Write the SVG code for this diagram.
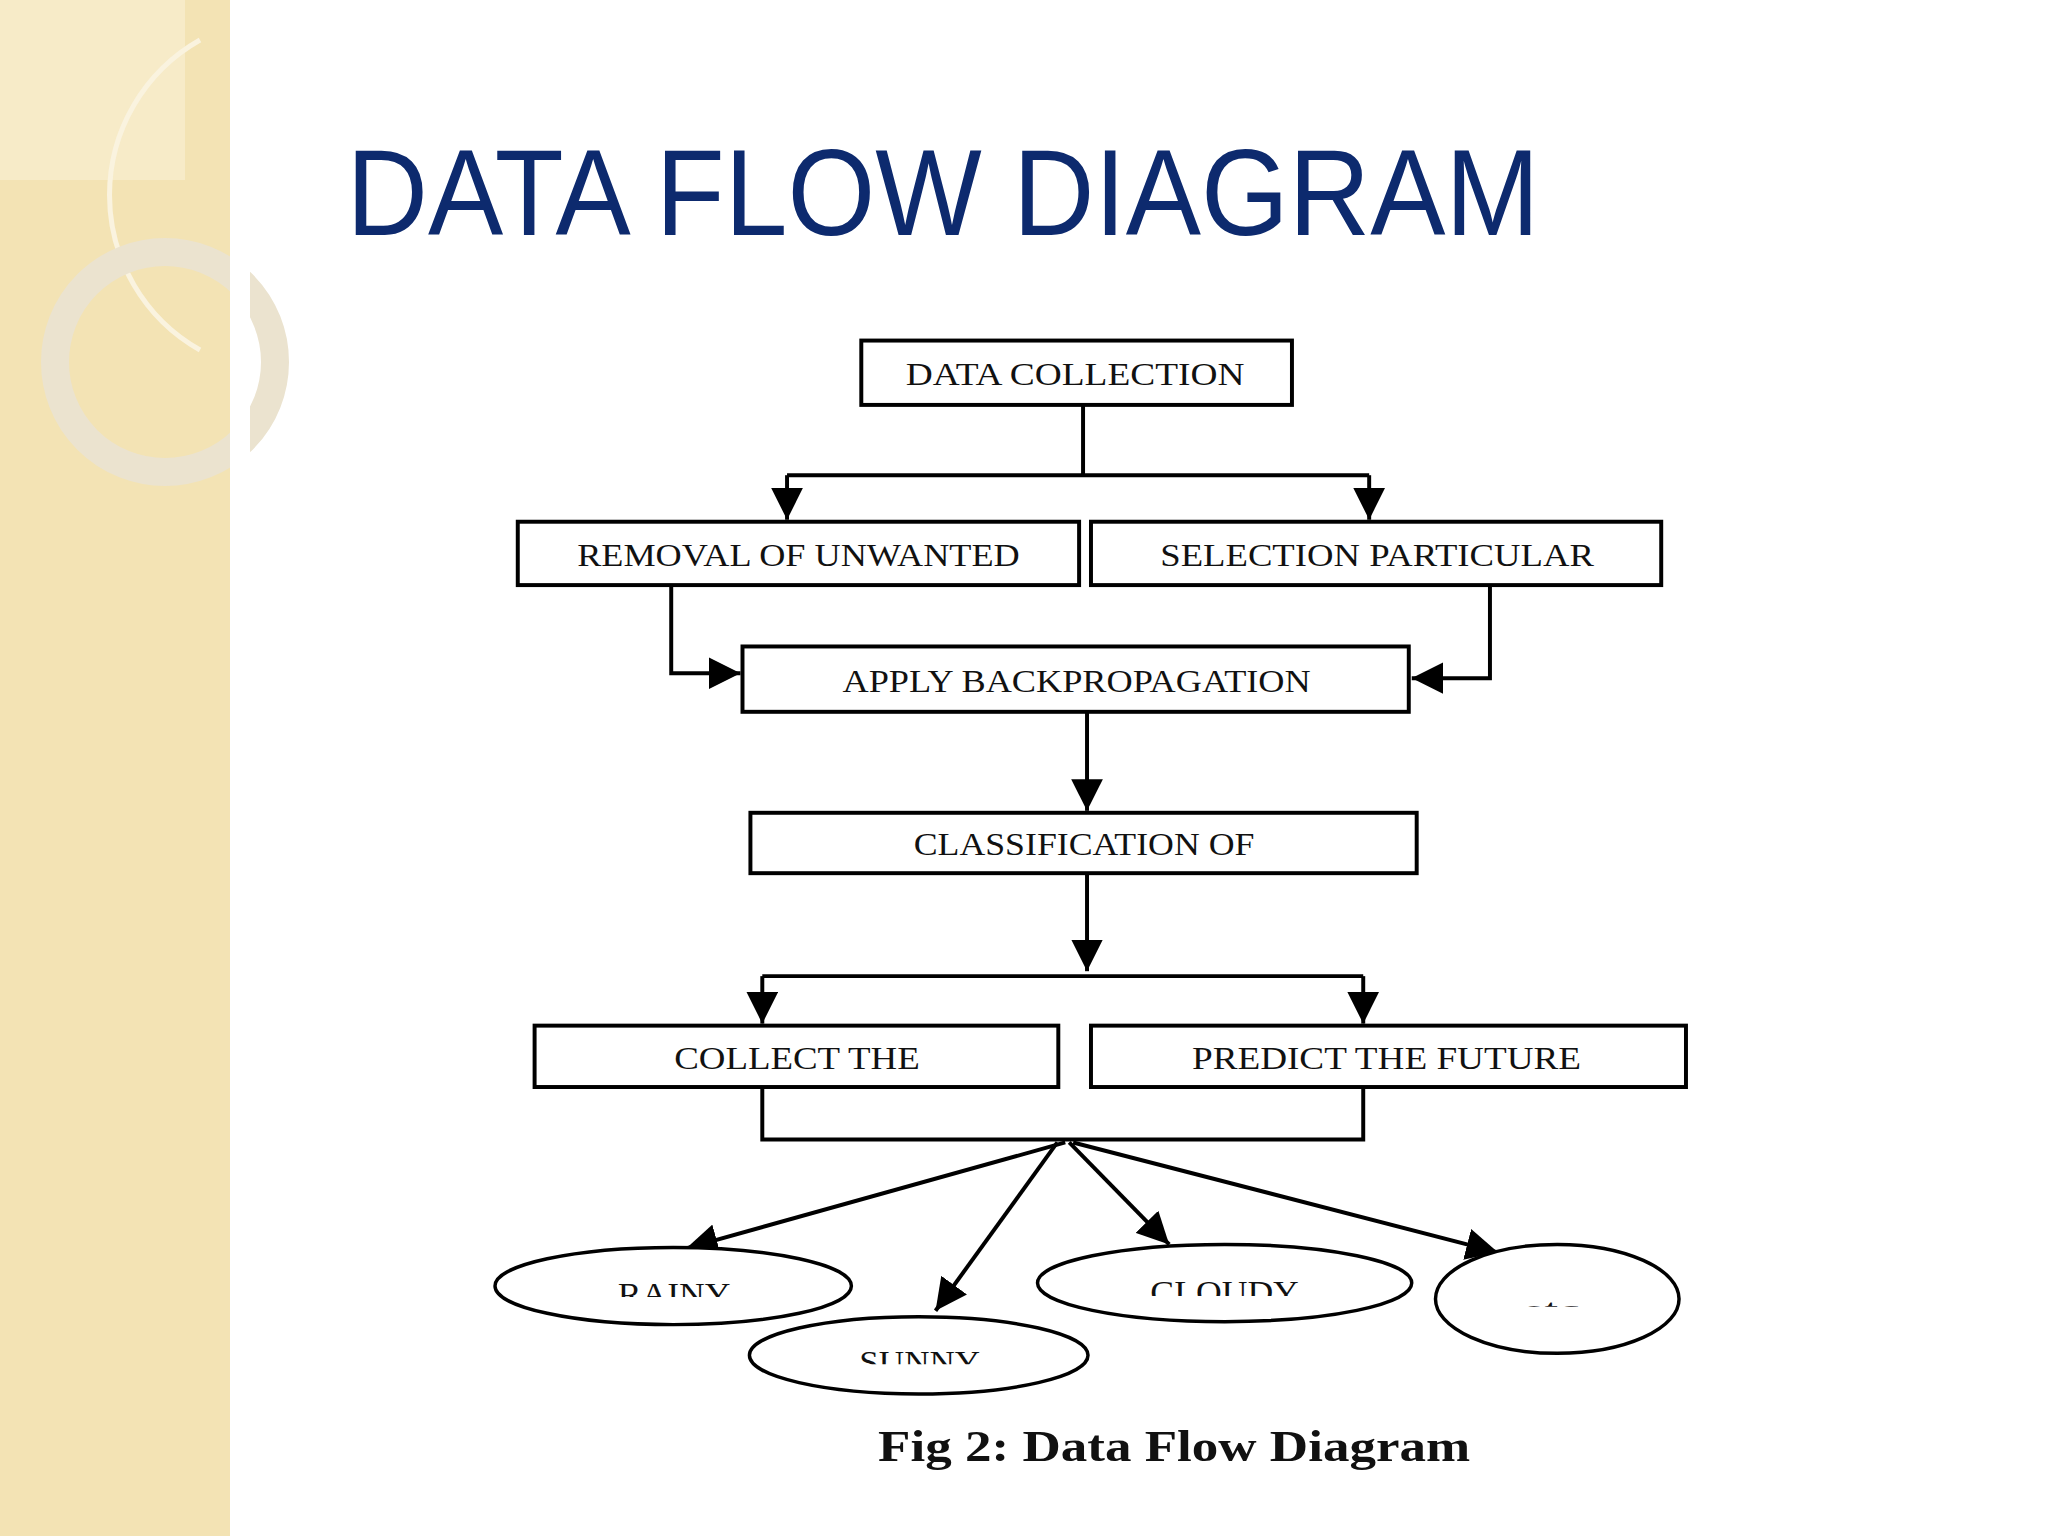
<svg xmlns="http://www.w3.org/2000/svg" width="2048" height="1536" viewBox="0 0 2048 1536">
<style>
.box{fill:#fff;stroke:#000;stroke-width:4}
.bt{font-family:"Liberation Serif",serif;font-size:31px;fill:#111}
.ln{fill:none;stroke:#000;stroke-width:4}
.el{fill:#fff;stroke:#000;stroke-width:3.5}
</style>
<defs>
<marker id="a" viewBox="0 0 10 10" refX="10" refY="5" markerWidth="8" markerHeight="8" orient="auto"><path d="M0,0 L10,5 L0,10 z" fill="#000"/></marker>
<clipPath id="cr"><rect x="600" y="1270" width="200" height="40"/></clipPath>
<clipPath id="cs"><rect x="840" y="1340" width="200" height="38"/></clipPath>
<clipPath id="cc"><rect x="1130" y="1270" width="220" height="39"/></clipPath>
<clipPath id="ce"><rect x="1500" y="1300" width="150" height="20"/></clipPath>
</defs>
<rect width="2048" height="1536" fill="#fff"/>
<g id="band">
<rect x="0" y="0" width="230" height="1536" fill="#f3e3b4"/>
<rect x="0" y="0" width="185" height="180" fill="#f7ebc8"/>
<path d="M230,40 A178,178 0 0 0 230,350" fill="none" stroke="#faf3df" stroke-width="5" transform="translate(-30,0)"/>
<circle cx="165" cy="362" r="110" fill="none" stroke="#ebe3cf" stroke-width="28"/>
<rect x="230" y="0" width="20" height="1536" fill="#fff"/>
</g>
<g transform="scale(0.99)">
<text x="350" y="237" font-family="Liberation Sans,Arial,sans-serif" font-size="124" fill="#0d2a6e" textLength="1205" lengthAdjust="spacingAndGlyphs">DATA FLOW DIAGRAM</text>
<g id="connectors">
<path class="ln" d="M1094,409 V480 M795,480 H1383"/>
<path class="ln" d="M795,480 V525" marker-end="url(#a)"/>
<path class="ln" d="M1383,480 V525" marker-end="url(#a)"/>
<path class="ln" d="M678,591 V680 H748" marker-end="url(#a)"/>
<path class="ln" d="M1505,591 V685 H1426" marker-end="url(#a)"/>
<path class="ln" d="M1098,719 V819" marker-end="url(#a)"/>
<path class="ln" d="M1098,882 V981" marker-end="url(#a)"/>
<path class="ln" d="M770,986 H1377"/>
<path class="ln" d="M770,986 V1034" marker-end="url(#a)"/>
<path class="ln" d="M1377,986 V1034" marker-end="url(#a)"/>
<path class="ln" d="M770,1098 V1151 H1377 V1098"/>
<path class="ln" d="M1076,1154 L693,1261" marker-end="url(#a)"/>
<path class="ln" d="M1068,1154 L945,1324" marker-end="url(#a)"/>
<path class="ln" d="M1080,1154 L1181,1257" marker-end="url(#a)"/>
<path class="ln" d="M1084,1154 L1513,1265" marker-end="url(#a)"/>
</g>
<g id="n1"><rect class="box" x="870" y="344" width="435" height="65"/><text class="bt" x="915" y="389" textLength="342" lengthAdjust="spacingAndGlyphs">DATA  COLLECTION</text></g>
<g id="n2"><rect class="box" x="523" y="527" width="567" height="64"/><text class="bt" x="583" y="572" textLength="447" lengthAdjust="spacingAndGlyphs">REMOVAL OF UNWANTED</text></g>
<g id="n3"><rect class="box" x="1102" y="527" width="576" height="64"/><text class="bt" x="1172" y="572" textLength="438" lengthAdjust="spacingAndGlyphs">SELECTION  PARTICULAR</text></g>
<g id="n4"><rect class="box" x="750" y="653" width="673" height="66"/><text class="bt" x="851" y="699" textLength="473" lengthAdjust="spacingAndGlyphs">APPLY BACKPROPAGATION</text></g>
<g id="n5"><rect class="box" x="758" y="821" width="673" height="61"/><text class="bt" x="923" y="864" textLength="344" lengthAdjust="spacingAndGlyphs">CLASSIFICATION OF</text></g>
<g id="n6"><rect class="box" x="540" y="1036" width="529" height="62"/><text class="bt" x="681" y="1080" textLength="248" lengthAdjust="spacingAndGlyphs">COLLECT  THE</text></g>
<g id="n7"><rect class="box" x="1102" y="1036" width="601" height="62"/><text class="bt" x="1204" y="1080" textLength="393" lengthAdjust="spacingAndGlyphs">PREDICT  THE  FUTURE</text></g>
<g id="e1"><ellipse class="el" cx="680" cy="1299" rx="180" ry="39"/><text class="bt" x="624" y="1318" textLength="114" lengthAdjust="spacingAndGlyphs" clip-path="url(#cr)">RAINY</text></g>
<g id="e2"><ellipse class="el" cx="928" cy="1369" rx="171" ry="39"/><text class="bt" x="868" y="1387" textLength="122" lengthAdjust="spacingAndGlyphs" clip-path="url(#cs)">SUNNY</text></g>
<g id="e3"><ellipse class="el" cx="1237" cy="1296" rx="189" ry="39"/><text class="bt" x="1162" y="1316" textLength="150" lengthAdjust="spacingAndGlyphs" clip-path="url(#cc)">CLOUDY</text></g>
<g id="e4"><ellipse class="el" cx="1573" cy="1312" rx="123" ry="55"/><text class="bt" x="1538" y="1334" textLength="58" lengthAdjust="spacingAndGlyphs" clip-path="url(#ce)">etc</text></g>
<text x="887" y="1476" font-family="Liberation Serif,serif" font-weight="bold" font-size="44" fill="#111" textLength="598" lengthAdjust="spacingAndGlyphs">Fig 2: Data Flow Diagram</text>
</g>
</svg>
